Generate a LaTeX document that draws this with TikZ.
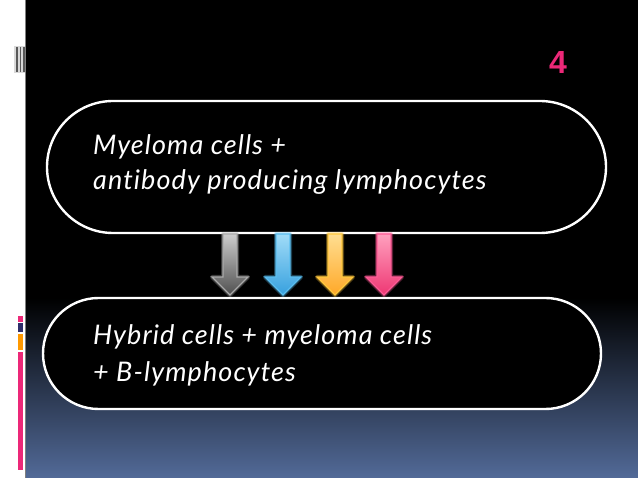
\documentclass[tikz,border=0pt]{standalone}
\usepackage{fontspec}
\setmainfont{DejaVu Sans}
\newfontfamily\numfont{Liberation Sans}
\newfontfamily\txtfont[LetterSpace=4,Ligatures=NoCommon]{Lato}
\usetikzlibrary{shapes.misc}
\definecolor{pinkc}{RGB}{236,40,120}
\definecolor{navy}{RGB}{82,106,152}
\definecolor{gA}{RGB}{205,205,205}\definecolor{gB}{RGB}{80,80,80}\definecolor{gG}{RGB}{170,170,170}
\definecolor{bA}{RGB}{160,220,248}\definecolor{bB}{RGB}{55,160,222}\definecolor{bG}{RGB}{90,190,240}
\definecolor{oA}{RGB}{255,222,145}\definecolor{oB}{RGB}{255,168,40}\definecolor{oG}{RGB}{255,200,60}
\definecolor{pA}{RGB}{255,160,190}\definecolor{pB}{RGB}{238,55,115}\definecolor{pG}{RGB}{255,90,150}
\begin{document}
\begin{tikzpicture}[x=1pt,y=-1pt,
  box/.style={rounded rectangle, draw=white, line width=2.4pt, fill=black, inner sep=0pt},
  txt/.style={anchor=base west, text=white, inner sep=0pt, font=\txtfont\itshape\fontsize{27}{32}\selectfont},
  arr/.style={line width=1.2pt, line join=miter}
]
\useasboundingbox (0,0) rectangle (638,478);
% background
\fill[white] (0,0) rectangle (638,478);
\fill[black] (26,0) rectangle (638,300);
\shade[top color=black, bottom color=navy] (26,298) rectangle (638,478);
\draw[gray, line width=1pt] (25.5,0) -- (25.5,478);
% left decorations
\fill[gray!30] (14,46) rectangle (25,73);
\foreach \xx in {16,19.5,23}{\fill[gray!70!black] (\xx,47) rectangle ++(1.6,25);}
\fill[pinkc] (18,316) rectangle (23,322);
\fill[gray!60!blue!60!black] (18,323) rectangle (23,332);
\fill[orange!80!yellow] (18,334) rectangle (23,350);
\fill[pinkc] (18,352) rectangle (23,470);
% slide number
\node[text=pinkc, font=\numfont\bfseries\fontsize{32}{36}\selectfont, inner sep=0pt] (num) at (558,62) {4};
% boxes
\node[box, minimum width=559pt, minimum height=132pt] (top) at (326.5,167) {};
\node[box, minimum width=558pt, minimum height=111pt] (bot) at (322,353.5) {};
% texts
\node[txt] (t1) at (93,155) {Myeloma cells +};
\node[txt] (t2) at (93,190) {antibody producing lymphocytes};
\node[txt] (b1) at (93,345) {Hybrid cells + myeloma cells};
\node[txt] (b2) at (93,382) {+ B-lymphocytes};
% arrows
\foreach \cx/\ca/\cb/\cg in {230/gA/gB/gG, 283/bA/bB/bG, 335/oA/oB/oG, 384/pA/pB/pG}{
  \draw[line width=4pt, draw=\cg, opacity=0.35, line join=round]
    (\cx-7,234) -- (\cx+7,234) -- (\cx+7,277) -- (\cx+18,277) -- (\cx,295) -- (\cx-18,277) -- (\cx-7,277) -- cycle;
  \shade[top color=\ca, bottom color=\cb, draw=\cg, arr]
    (\cx-7,234) -- (\cx+7,234) -- (\cx+7,277) -- (\cx+18,277) -- (\cx,295) -- (\cx-18,277) -- (\cx-7,277) -- cycle;
}
\end{tikzpicture}
\end{document}
